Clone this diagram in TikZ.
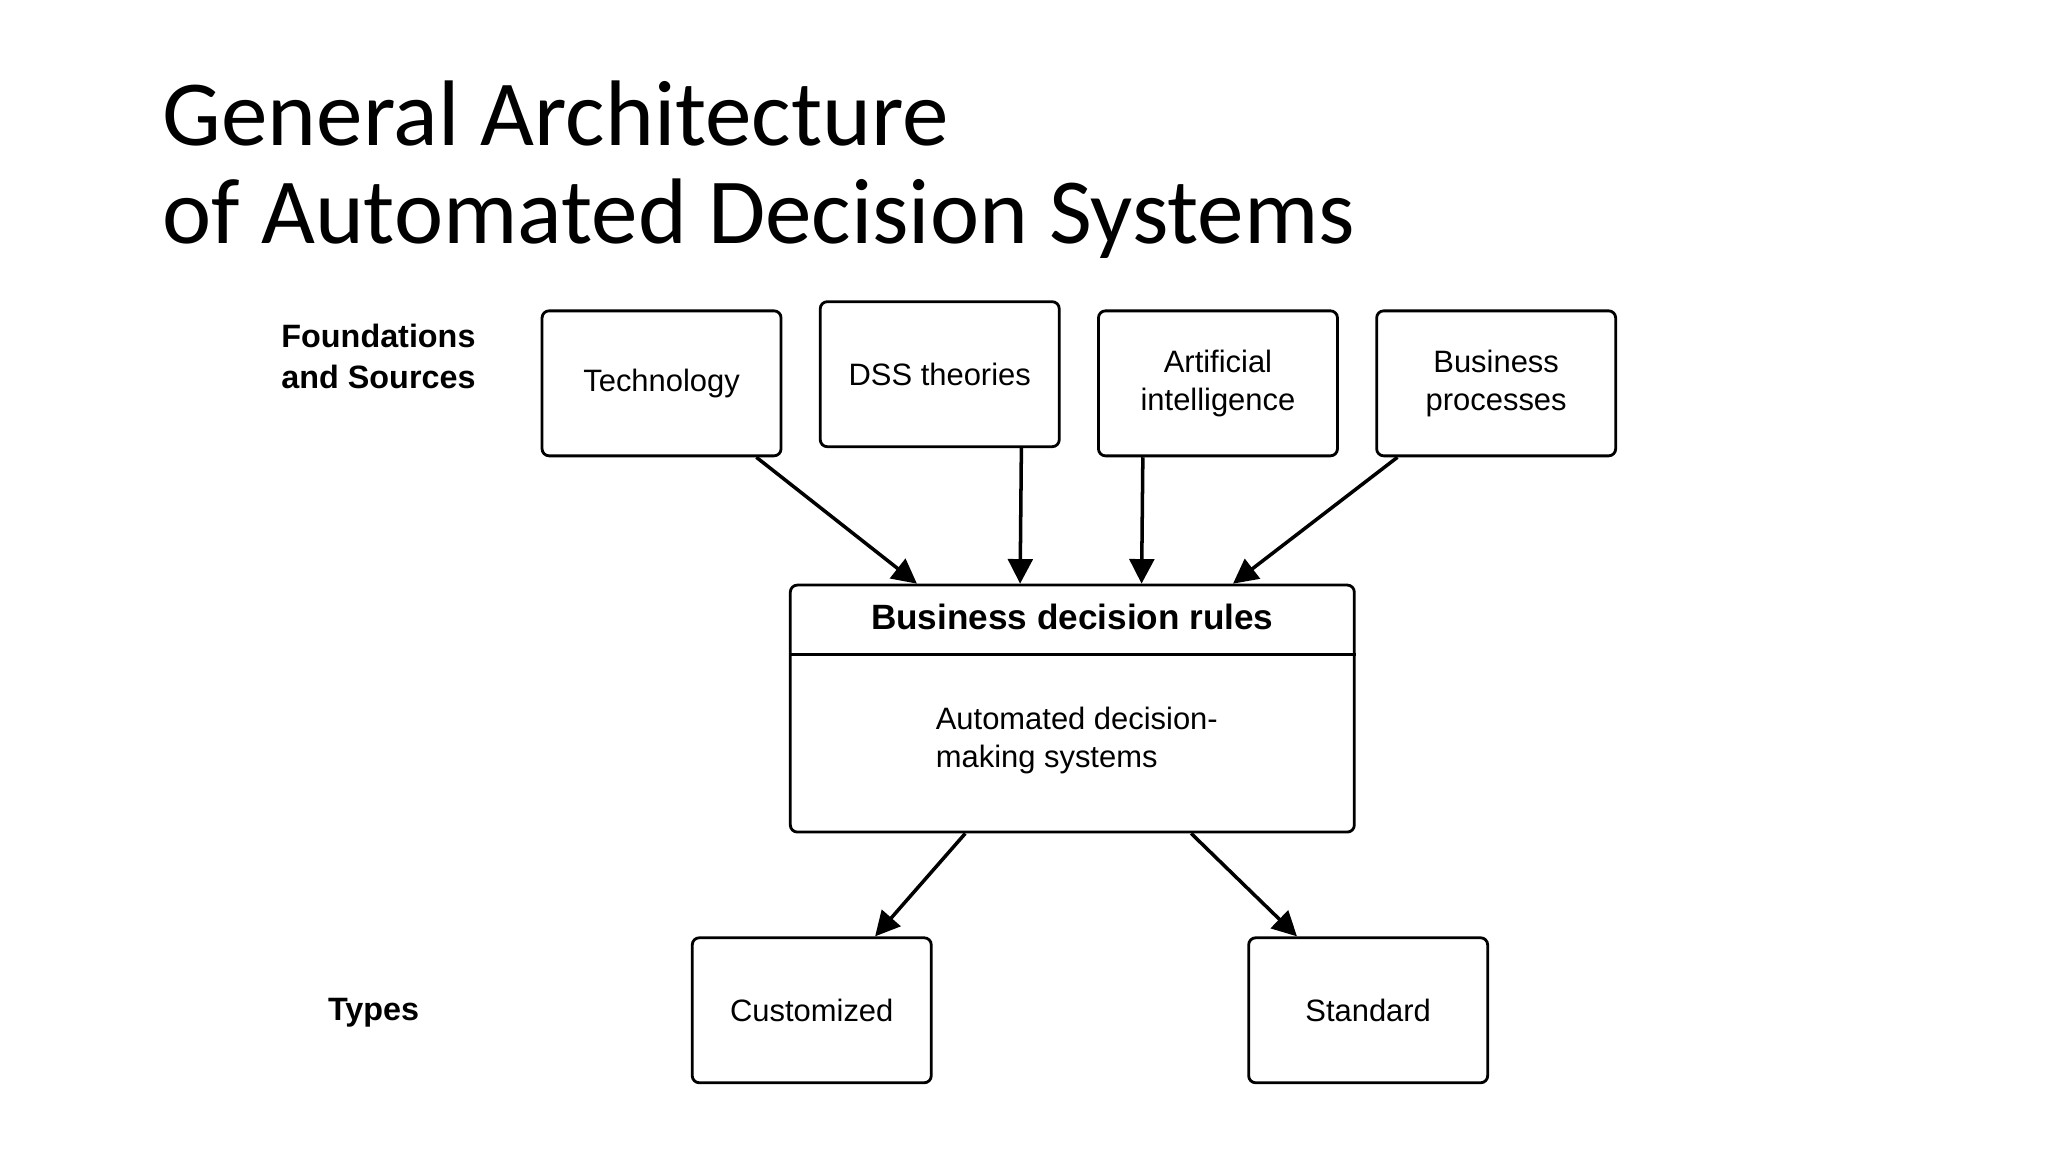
\documentclass[tikz,border=0pt]{standalone}
\usepackage{fontspec}
\setmainfont{Liberation Sans}
\newfontfamily\titlefont{Carlito}
\usetikzlibrary{arrows.meta,calc}

\tikzset{
    box/.style={draw, thick, rounded corners=2pt, minimum width=2.39cm, minimum height=1.45cm, align=center, font=\fontsize{8.8}{11}\selectfont},
    flow/.style={-{Triangle[length=7pt,width=7pt]}, line width=1pt},
    side/.style={font=\bfseries\fontsize{9.2}{11.5}\selectfont, align=left}
}

\begin{document}
\begin{tikzpicture}[x=0.01306cm, y=-0.01306cm]
    \useasboundingbox (0,0) rectangle (1568,882);

    \node[anchor=west, align=left, font=\titlefont\fontsize{26.5}{27.8}\selectfont] (title) at (115,130)
        {General Architecture\\of Automated Decision Systems};

    \node[side, anchor=west] (found) at (206,273) {Foundations\\and Sources};
    \node[side] (types) at (286,775) {Types};

    \node[box] (tech) at (506.5,293.5) {Technology};
    \node[box] (dss) at (719.5,286.5) {DSS theories};
    \node[box] (ai) at (932.5,293.5) {Artificial\\intelligence};
    \node[box] (bp) at (1145.5,293.5) {Business\\processes};

    \node[draw, thick, rounded corners=2pt, minimum width=5.64cm, minimum height=2.47cm] (main) at (821,542.5) {};
    \coordinate (divl) at ($(main.north west)+(0,54)$);
    \coordinate (divr) at ($(main.north east)+(0,54)$);
    \draw[thick] (divl) -- (divr);
    \node[font=\bfseries\fontsize{10}{12}\selectfont] (rules) at (821,472) {Business decision rules};
    \node[anchor=west, align=left, font=\fontsize{8.8}{11}\selectfont] (ads) at (707,567) {Automated decision-\\making systems};

    \node[box] (cust) at (621.5,773.5) {Customized};
    \node[box] (std) at (1047.5,773.5) {Standard};

    \draw[flow] ($(tech.south east)+(-20,0)$) -- ($(main.north west)+(98,0)$);
    \draw[flow] ($(dss.south)+(62.5,0)$) -- ($(main.north west)+(177,0)$);
    \draw[flow] ($(ai.south)+(-57.5,0)$) -- ($(main.north west)+(270,0)$);
    \draw[flow] ($(bp.south west)+(17,0)$) -- ($(main.north west)+(340,0)$);

    \draw[flow] ($(main.south west)+(135,0)$) -- ($(cust.north)+(48.5,0)$);
    \draw[flow] ($(main.south west)+(308,0)$) -- ($(std.north)+(-54.5,0)$);
\end{tikzpicture}
\end{document}
